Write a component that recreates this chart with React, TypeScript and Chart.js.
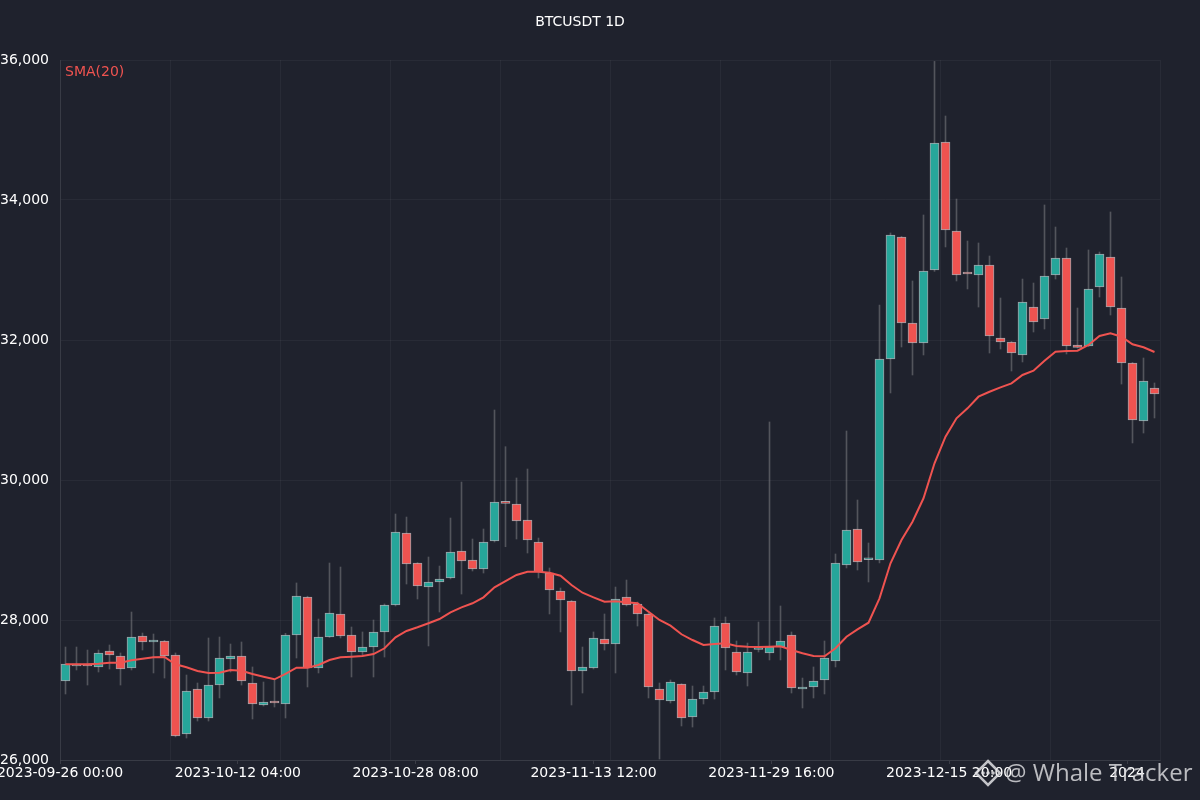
import React, { useEffect, useRef } from 'react';
import { Chart, registerables } from 'chart.js';

Chart.register(...registerables);

const BG = '#1f222d';
const UP = '#26a69a';
const DOWN = '#ef5350';
const WICK = 'rgba(135, 135, 140, 0.5)';
const BODY_BORDER = 'rgba(205, 205, 210, 0.75)';
const GRID = 'rgba(255, 255, 255, 0.045)';
const AXIS = 'rgba(255, 255, 255, 0.08)';

// koersen per candle
const opens = [
  27129, 27343, 27357, 27329, 27557, 27486, 27314, 27771, 27686, 27700,
  27500, 26371, 27014, 26600, 27071, 27443, 27486, 27100, 26786, 26843,
  26800, 27786, 28329, 27314, 27757, 28086, 27786, 27543, 27614, 27829,
  28214, 29243, 28814, 28471, 28543, 28600, 28986, 28857, 28729, 29129,
  29675, 29657, 29429, 29114, 28671, 28414, 28271, 27271, 27314, 27729,
  27657, 28329, 28229, 28086, 27014, 26843, 27086, 26614, 26871, 26971,
  27957, 27543, 27243, 27579, 27529, 27614, 27786, 27014, 27043, 27143,
  27414, 28786, 29300, 28861, 28857, 31729, 33471, 32243, 31957, 33000,
  34829, 33557, 32950, 32929, 33071, 32029, 31971, 31786, 32471, 32300,
  32929, 33171, 31929, 31914, 32757, 33186, 32457, 31671, 30843, 31314,
];
const highs = [
  27614, 27614, 27571, 27571, 27643, 27529, 28114, 27814, 27800, 27710,
  27529, 27214, 27100, 27743, 27757, 27657, 27686, 27329, 27114, 27143,
  27810, 28529, 28340, 28014, 28814, 28757, 27900, 27829, 28000, 28229,
  29514, 29471, 28820, 28900, 28771, 29457, 29971, 29157, 29300, 31000,
  30476, 30029, 30157, 29171, 28743, 28457, 28280, 27614, 27829, 28086,
  28471, 28571, 28257, 28095, 27100, 27143, 27090, 27057, 27057, 28029,
  28043, 27700, 27671, 27971, 30829, 28200, 27829, 27171, 27329, 27700,
  28943, 30700, 29714, 29100, 32500, 33529, 33480, 32843, 33786, 35980,
  35200, 34014, 33414, 33386, 33200, 32600, 31980, 32871, 32814, 33929,
  33614, 33314, 32457, 33286, 33257, 33829, 32900, 31680, 31743, 31386,
];
const lows = [
  26943, 27286, 27071, 27257, 27300, 27071, 27286, 27571, 27243, 27171,
  26330, 26314, 26557, 26557, 26886, 27257, 27071, 26586, 26771, 26757,
  26600, 27457, 27043, 27243, 27750, 27743, 27186, 27500, 27186, 27471,
  28200, 28514, 28300, 27629, 28114, 28586, 28371, 28700, 28671, 29114,
  29047, 29157, 28957, 28600, 28086, 27829, 26786, 26957, 27300, 27571,
  27243, 28200, 27914, 26886, 26014, 26814, 26486, 26471, 26800, 26871,
  27286, 27214, 27057, 27543, 27429, 27429, 26957, 26743, 26886, 26943,
  27329, 28743, 28714, 28543, 28814, 31243, 31900, 31500, 31786, 32980,
  33329, 32843, 32729, 32471, 31814, 31871, 31557, 31686, 32114, 32157,
  32871, 31800, 31886, 31905, 32614, 32357, 31371, 30529, 30671, 30886,
];
const closes = [
  27371, 27357, 27343, 27529, 27500, 27300, 27757, 27686, 27714, 27486,
  26343, 26986, 26600, 27071, 27457, 27486, 27129, 26800, 26829, 26814,
  27786, 28343, 27314, 27757, 28100, 27771, 27543, 27614, 27829, 28214,
  29257, 28800, 28486, 28543, 28586, 28971, 28843, 28729, 29114, 29686,
  29665, 29414, 29143, 28686, 28429, 28286, 27271, 27329, 27743, 27657,
  28300, 28214, 28086, 27043, 26857, 27114, 26600, 26871, 26971, 27914,
  27600, 27257, 27543, 27593, 27614, 27700, 27029, 27036, 27129, 27457,
  28814, 29286, 28829, 28871, 31729, 33500, 32243, 31957, 32986, 34814,
  33571, 32929, 32943, 33071, 32057, 31971, 31814, 32543, 32257, 32914,
  33171, 31914, 31893, 32729, 33229, 32471, 31671, 30857, 31414, 31229,
];
const smaValues = [
  27367, 27367, 27367, 27376, 27390, 27390, 27424, 27447, 27467, 27471,
  27367, 27324, 27271, 27243, 27247, 27286, 27276, 27229, 27190, 27153,
  27229, 27319, 27319, 27357, 27429, 27467, 27476, 27486, 27514, 27596,
  27753, 27843, 27896, 27953, 28014, 28110, 28181, 28239, 28324, 28467,
  28557, 28643, 28690, 28690, 28676, 28633, 28500, 28390, 28324, 28261,
  28267, 28253, 28239, 28119, 28000, 27919, 27796, 27714, 27643, 27657,
  27667, 27629, 27619, 27614, 27619, 27624, 27571, 27524, 27486, 27481,
  27596, 27761, 27867, 27961, 28310, 28810, 29143, 29404, 29739, 30239,
  30619, 30881, 31024, 31190, 31261, 31324, 31381, 31500, 31561, 31704,
  31833, 31843, 31847, 31929, 32057, 32096, 32047, 31939, 31896, 31829,
];

const yTicks = [26000, 28000, 30000, 32000, 34000, 36000];
const xGridPos = [0, 10, 20, 30, 40, 50, 60, 70, 80, 90, 100];
const xTickPos = [0, 16.17, 32.33, 48.5, 64.67, 80.83, 97];
const xTickLabels = [
  '2023-09-26 00:00',
  '2023-10-12 04:00',
  '2023-10-28 08:00',
  '2023-11-13 12:00',
  '2023-11-29 16:00',
  '2023-12-15 20:00',
  '2024',
];

const TITLE = 'BTCUSDT 1D';
const SMA_LABEL = 'SMA(20)';
const WATERMARK = '@ Whale Tracker';

const startDay = new Date(Date.UTC(2023, 8, 26));
const dayLabels = opens.map((_, i) =>
  new Date(startDay.getTime() + i * 86400000).toISOString().slice(0, 10)
);

const near = (list: number[], v: number) => list.findIndex((p) => Math.abs(p - v) < 0.001);

const CandleChart: React.FC = () => {
  const chartRef = useRef<HTMLCanvasElement>(null);

  useEffect(() => {
    document.body.style.margin = '0';
    document.body.style.background = BG;
    if (!chartRef.current) return;

    const bgPlugin = {
      id: 'bg',
      beforeDraw: (chart: any) => {
        const { ctx, width, height } = chart;
        ctx.save();
        ctx.fillStyle = BG;
        ctx.fillRect(0, 0, width, height);
        ctx.restore();
      },
    };

    const overlayPlugin = {
      id: 'overlay',
      afterDraw: (chart: any) => {
        const { ctx, chartArea } = chart;
        ctx.save();
        // indicator label linksboven in het plotvlak
        ctx.font = '14px "DejaVu Sans"';
        ctx.fillStyle = DOWN;
        ctx.textBaseline = 'middle';
        ctx.textAlign = 'left';
        ctx.fillText(SMA_LABEL, chartArea.left + 5, chartArea.top + 12);

        // watermerk
        const cx = 988;
        const cy = 773;
        ctx.strokeStyle = 'rgba(225, 225, 228, 0.85)';
        ctx.lineWidth = 2.5;
        ctx.beginPath();
        ctx.moveTo(cx, cy - 12);
        ctx.lineTo(cx + 12, cy);
        ctx.lineTo(cx, cy + 12);
        ctx.lineTo(cx - 12, cy);
        ctx.closePath();
        ctx.stroke();
        ctx.fillStyle = 'rgba(225, 225, 228, 0.85)';
        [-5, 0, 5].forEach((dx) => {
          ctx.beginPath();
          ctx.arc(cx + dx, cy, 1.8, 0, Math.PI * 2);
          ctx.fill();
        });
        ctx.font = '24px "Open Sans"';
        ctx.fillStyle = 'rgba(215, 215, 218, 0.85)';
        ctx.fillText(WATERMARK, 1005, 774);
        ctx.restore();
      },
    };

    const chart = new Chart(chartRef.current, {
      type: 'bar',
      data: {
        labels: dayLabels,
        datasets: [
          {
            type: 'line',
            label: SMA_LABEL,
            data: smaValues,
            borderColor: DOWN,
            borderWidth: 2,
            pointRadius: 0,
            tension: 0,
            order: 1,
          },
          {
            type: 'bar',
            label: 'body',
            data: opens.map((o, i) => [o, closes[i]]),
            backgroundColor: opens.map((o, i) => (closes[i] >= o ? UP : DOWN)),
            borderColor: BODY_BORDER,
            borderWidth: 1,
            borderSkipped: false,
            barThickness: 9,
            minBarLength: 2,
            grouped: false,
            order: 2,
          },
          {
            type: 'bar',
            label: 'wick',
            data: lows.map((l, i) => [l, highs[i]]),
            backgroundColor: WICK,
            barThickness: 1,
            grouped: false,
            order: 3,
          },
        ] as any,
      },
      options: {
        responsive: true,
        maintainAspectRatio: false,
        animation: false,
        events: [],
        layout: { padding: { left: 0, right: 40, top: 0, bottom: 0 } },
        plugins: {
          legend: { display: false },
          tooltip: { enabled: false },
          title: {
            display: true,
            text: TITLE,
            color: '#ffffff',
            font: { size: 14, weight: 'normal', family: 'DejaVu Sans' },
            padding: { top: 13.6, bottom: 29.6 },
          },
        },
        scales: {
          x: {
            type: 'category',
            display: false,
            offset: true,
          },
          xt: {
            type: 'linear',
            position: 'bottom',
            min: 0,
            max: 100,
            offset: false,
            afterBuildTicks: (scale: any) => {
              const vals = Array.from(new Set([...xGridPos, ...xTickPos])).sort((a, b) => a - b);
              scale.ticks = vals.map((v) => ({ value: v }));
            },
            afterFit: (scale: any) => {
              scale.height = 40;
              scale.paddingLeft = 0;
              scale.paddingRight = 0;
            },
            ticks: {
              autoSkip: false,
              maxRotation: 0,
              minRotation: 0,
              padding: 1,
              color: '#ffffff',
              font: { size: 14, family: 'DejaVu Sans' },
              callback: (v: any) => {
                const k = near(xTickPos, Number(v));
                return k >= 0 ? xTickLabels[k] : '';
              },
            },
            grid: {
              offset: false,
              color: (c: any) => (c.tick && near(xGridPos, c.tick.value) >= 0 ? GRID : 'transparent'),
              tickColor: (c: any) =>
                c.tick && near(xTickPos, c.tick.value) >= 0 ? 'rgba(255,255,255,0.12)' : 'transparent',
              tickLength: 4,
            },
            border: { color: AXIS },
          },
          y: {
            type: 'linear',
            position: 'left',
            min: 26000,
            max: 36000,
            afterBuildTicks: (scale: any) => {
              scale.ticks = yTicks.map((v) => ({ value: v }));
            },
            afterFit: (scale: any) => {
              scale.width = 60;
            },
            ticks: {
              padding: 11,
              color: '#ffffff',
              font: { size: 14, family: 'DejaVu Sans' },
              callback: (v: any) => Number(v).toLocaleString('en-US'),
            },
            grid: { color: GRID, drawTicks: false },
            border: { color: AXIS },
          },
        },
      } as any,
      plugins: [bgPlugin, overlayPlugin],
    });

    return () => chart.destroy();
  }, []);

  return (
    <div style={{ position: 'relative', width: 1200, height: 800, background: BG }}>
      <canvas ref={chartRef}></canvas>
    </div>
  );
};

export default function App() {
  return <CandleChart />;
}
